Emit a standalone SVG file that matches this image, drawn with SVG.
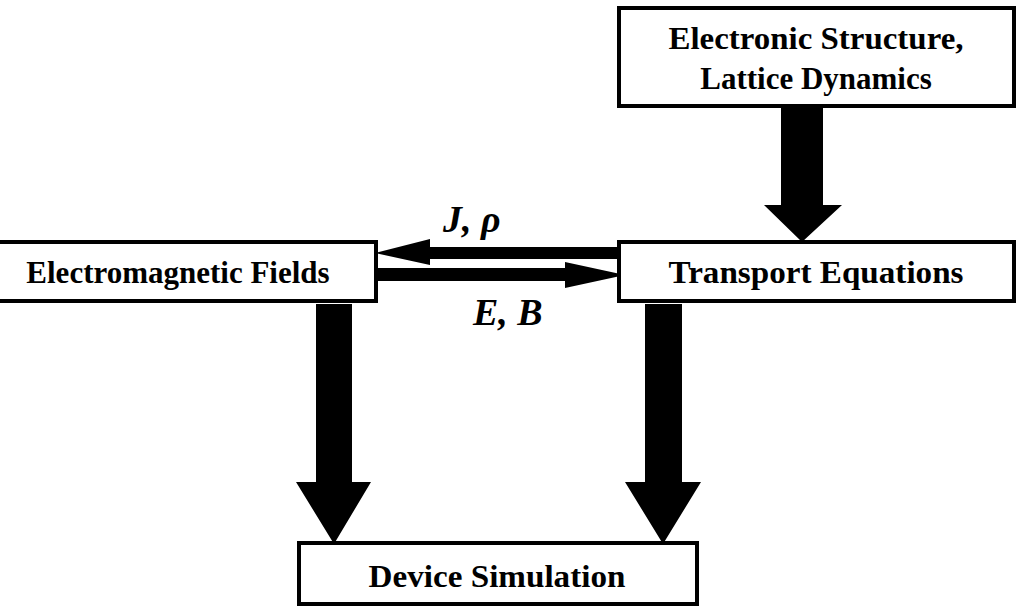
<svg xmlns="http://www.w3.org/2000/svg" width="1021" height="616" viewBox="0 0 1021 616">
<style>
.box{fill:#fff;stroke:#000;stroke-width:4}
.t{font-family:"Liberation Serif",serif;font-weight:bold;font-size:31px;text-anchor:middle}
.l{font-family:"Liberation Serif",serif;font-style:italic;font-weight:bold;font-size:38px}
</style>
<rect width="1021" height="616" fill="#fff"/>
<g id="connectors" fill="#000">
<polygon points="781,107 823,107 823,205 842,205 802,242 764,205 781,205"/>
<polygon points="617,247 430,247 430,239 375,253 430,265 430,259 617,259"/>
<polygon points="377,268 565,268 565,262 625,275 565,288 565,281 377,281"/>
<polygon points="316,304 352,304 352,482 371,482 334,544 296,482 316,482"/>
<polygon points="645,304 682,304 682,482 701,482 663,544 625,482 645,482"/>
<text class="l" x="443" y="232">J, ρ</text>
<text class="l" x="473" y="325">E, B</text>
</g>
<g id="n1"><rect class="box" x="619" y="8" width="395" height="98"/>
<text class="t" x="816" y="49" textLength="295" lengthAdjust="spacingAndGlyphs">Electronic Structure,</text>
<text class="t" x="816" y="89">Lattice Dynamics</text></g>
<g id="n2"><rect class="box" x="619" y="242" width="395" height="59"/>
<text class="t" x="816" y="283" textLength="295" lengthAdjust="spacingAndGlyphs">Transport Equations</text></g>
<g id="n3"><rect class="box" x="-2" y="242" width="378" height="59"/>
<text class="t" x="178" y="283">Electromagnetic Fields</text></g>
<g id="n4"><rect class="box" x="299" y="543" width="398" height="61"/>
<text class="t" x="497" y="587" textLength="257" lengthAdjust="spacingAndGlyphs">Device Simulation</text></g>
</svg>
